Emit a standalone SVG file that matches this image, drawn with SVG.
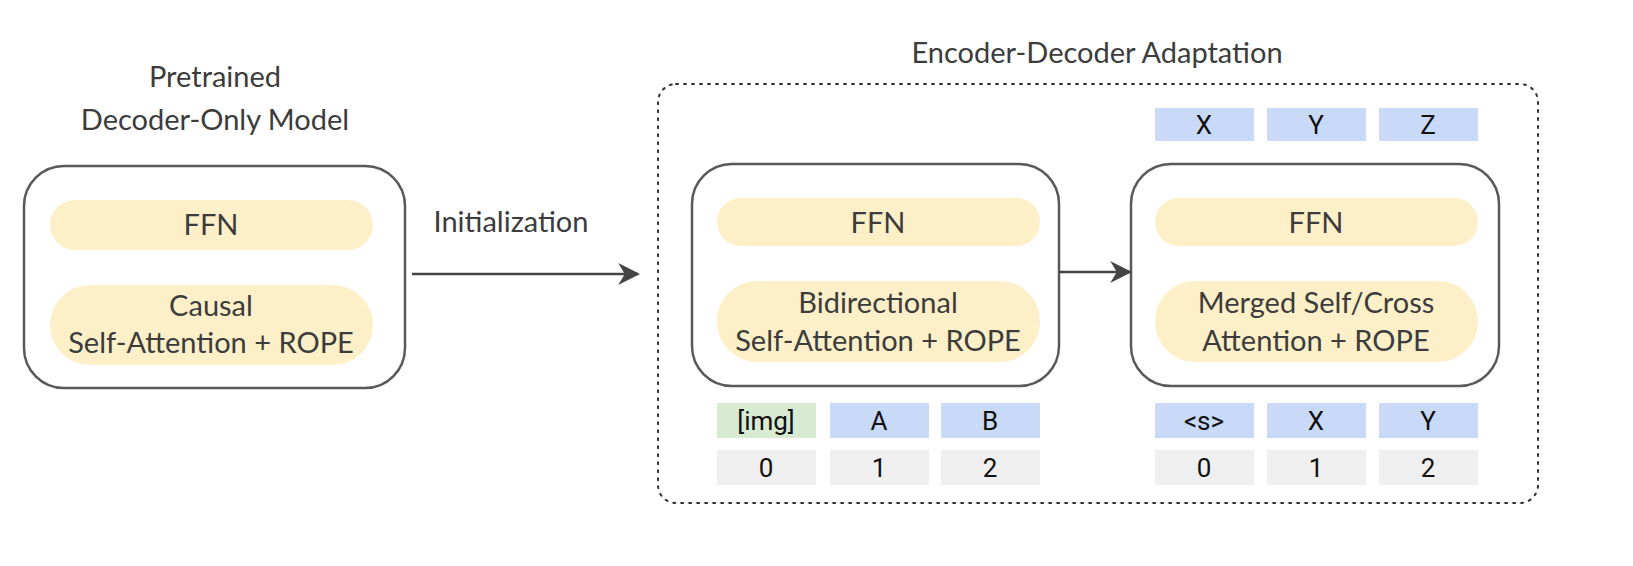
<svg xmlns="http://www.w3.org/2000/svg" width="1633" height="566" viewBox="0 0 1633 566">
<defs>
<style>
.t{font-family:Lato,"Noto Sans",sans-serif;font-size:29px;fill:#3c3c3c;text-anchor:middle}
.k{font-family:Roboto,"Liberation Sans",sans-serif;font-size:26px;fill:#111;text-anchor:middle}
.box{fill:#fff;stroke:#595959;stroke-width:2.5}
.pill{fill:#fdf0c8}
.blue{fill:#c9daf8}.green{fill:#d9ead3}.gray{fill:#efefef}
.c{stroke:#444;stroke-width:2.5;fill:none}
</style>
<marker id="ah2" viewBox="0 0 10 10" refX="9" refY="5" markerWidth="22" markerHeight="22" markerUnits="userSpaceOnUse" orient="auto"><path d="M0,0 L10,5 L0,10 L3,5 z" fill="#444"/></marker>
</defs>
<rect width="1633" height="566" fill="#fff"/>
<g id="adaptation-frame">
<rect x="658" y="84" width="880" height="419" rx="18" fill="none" stroke="#333" stroke-width="2" stroke-dasharray="2,6" stroke-linecap="round"/>
<text class="t" x="1097" y="63">Encoder-Decoder Adaptation</text>
</g>
<g id="decoder-only">
<text class="t" x="215" y="87">Pretrained</text>
<text class="t" x="215" y="130">Decoder-Only Model</text>
<rect class="box" x="24" y="166" width="381" height="222" rx="40"/>
<rect class="pill" x="50" y="200" width="323" height="50" rx="25"/>
<text class="t" x="211" y="235">FFN</text>
<rect class="pill" x="50" y="285" width="323" height="80" rx="40"/>
<text class="t" x="211" y="316">Causal</text>
<text class="t" x="211" y="353">Self-Attention + ROPE</text>
</g>
<g id="encoder">
<rect class="box" x="692" y="164" width="367" height="222" rx="40"/>
<rect class="pill" x="717" y="198" width="323" height="48" rx="24"/>
<text class="t" x="878" y="233">FFN</text>
<rect class="pill" x="717" y="281" width="323" height="81" rx="40"/>
<text class="t" x="878" y="313">Bidirectional</text>
<text class="t" x="878" y="351">Self-Attention + ROPE</text>
</g>
<g id="decoder">
<rect class="box" x="1131" y="164" width="368" height="222" rx="40"/>
<rect class="pill" x="1155" y="198" width="323" height="48" rx="24"/>
<text class="t" x="1316" y="233">FFN</text>
<rect class="pill" x="1155" y="281" width="323" height="81" rx="40"/>
<text class="t" x="1316" y="313">Merged Self/Cross</text>
<text class="t" x="1316" y="351">Attention + ROPE</text>
</g>
<g id="tokens">
<rect class="blue" x="1155" y="108" width="99" height="33"/><text class="k" x="1204" y="134">X</text>
<rect class="blue" x="1267" y="108" width="99" height="33"/><text class="k" x="1316" y="134">Y</text>
<rect class="blue" x="1379" y="108" width="99" height="33"/><text class="k" x="1428" y="134">Z</text>
<rect class="green" x="717" y="403" width="99" height="35"/><text class="k" x="766" y="430">[img]</text>
<rect class="blue" x="830" y="403" width="99" height="35"/><text class="k" x="879" y="430">A</text>
<rect class="blue" x="941" y="403" width="99" height="35"/><text class="k" x="990" y="430">B</text>
<rect class="gray" x="717" y="450" width="99" height="35"/><text class="k" x="766" y="477">0</text>
<rect class="gray" x="830" y="450" width="99" height="35"/><text class="k" x="879" y="477">1</text>
<rect class="gray" x="941" y="450" width="99" height="35"/><text class="k" x="990" y="477">2</text>
<rect class="blue" x="1155" y="403" width="99" height="35"/><text class="k" x="1204" y="430">&lt;s&gt;</text>
<rect class="blue" x="1267" y="403" width="99" height="35"/><text class="k" x="1316" y="430">X</text>
<rect class="blue" x="1379" y="403" width="99" height="35"/><text class="k" x="1428" y="430">Y</text>
<rect class="gray" x="1155" y="450" width="99" height="35"/><text class="k" x="1204" y="477">0</text>
<rect class="gray" x="1267" y="450" width="99" height="35"/><text class="k" x="1316" y="477">1</text>
<rect class="gray" x="1379" y="450" width="99" height="35"/><text class="k" x="1428" y="477">2</text>
</g>
<g id="connectors">
<line class="c" x1="412" y1="274" x2="638" y2="274" marker-end="url(#ah2)"/>
<text class="t" x="511" y="232">Initialization</text>
<line class="c" x1="1059" y1="272" x2="1130" y2="272" stroke="#666" stroke-width="2" marker-end="url(#ah2)"/>
</g>
</svg>
